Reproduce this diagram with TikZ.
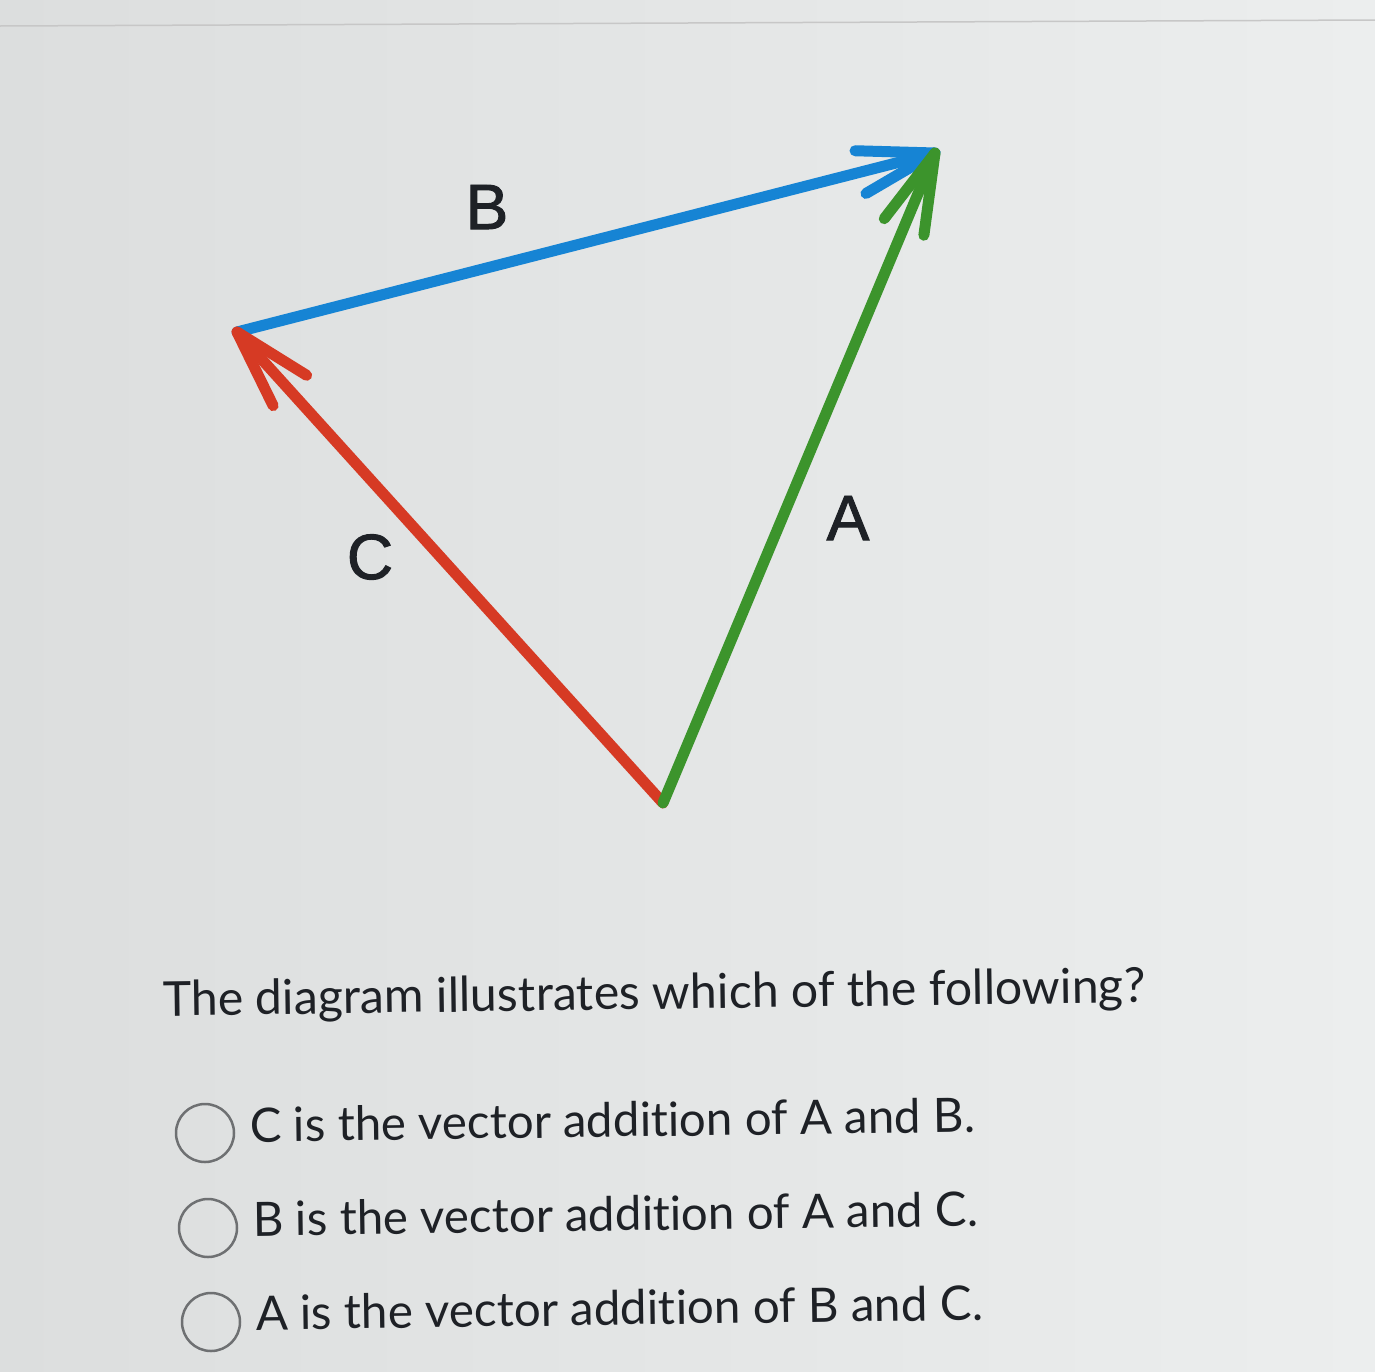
\documentclass[tikz,border=0pt]{standalone}
\usepackage{fontspec}
\setmainfont{Lato}[Ligatures=NoCommon]
\newfontfamily\labelfont{Liberation Sans}[FakeBold=1.5,UprightFeatures={FakeBold=1.5}]
\usetikzlibrary{calc}
\definecolor{bgL}{RGB}{220,222,222}
\definecolor{bgR}{RGB}{236,238,238}
\definecolor{vblue}{RGB}{22,132,212}
\definecolor{vred}{RGB}{214,58,36}
\definecolor{vgreen}{RGB}{60,148,44}
\definecolor{ink}{RGB}{30,33,38}
\definecolor{ring}{RGB}{110,112,114}
\begin{document}
\begin{tikzpicture}[x=1pt,y=-1pt,
  vec/.style={line width=11pt,line cap=round,line join=round},
  lab/.style={font=\labelfont\fontsize{64}{70}\selectfont,text=ink,inner sep=0pt},
  qline/.style={anchor=base west,inner sep=0pt,text=ink,rotate=0.8},
  radio/.style={circle,draw=ring,line width=2.5pt,minimum size=58pt,inner sep=0pt}]
\shade[left color=bgL,right color=bgR] (0,0) rectangle (1375,1371);
\useasboundingbox (0,0) rectangle (1375,1371);
\draw[black!22,line width=1.5pt] (0,26) -- (1375,20);
% vertices
\coordinate (P) at (663,803);
\coordinate (Q) at (237,332);
\coordinate (R) at (935,153);
% B
\draw[vec,vblue] (Q) -- (R);
\draw[vec,vblue] ($(R)!80pt!16:(Q)$) -- (R) -- ($(R)!80pt!-16:(Q)$);
% C
\draw[vec,vred] (P) -- (Q);
\draw[vec,vred] ($(Q)!82pt!16:(P)$) -- (Q) -- ($(Q)!82pt!-16:(P)$);
% A
\draw[vec,vgreen] (P) -- (R);
\draw[vec,vgreen] ($(R)!83pt!15:(P)$) -- (R) -- ($(R)!83pt!-15:(P)$);
% labels
\node[lab] (lB) at (487,207) {B};
\node[lab] (lC) at (370,557) {C};
\node[lab] (lA) at (848,518) {A};
% question
\node[qline] (q) at (163,1016) {\resizebox{982pt}{!}{The diagram illustrates which of the following?}};
\node[radio] (r1) at (205,1133) {};
\node[radio] (r2) at (208,1228) {};
\node[radio] (r3) at (211,1322) {};
\node[qline] (o1) at (250,1142) {\resizebox{725pt}{!}{C is the vector addition of A and B.}};
\node[qline] (o2) at (253,1236) {\resizebox{725pt}{!}{B is the vector addition of A and C.}};
\node[qline] (o3) at (256,1330) {\resizebox{727pt}{!}{A is the vector addition of B and C.}};
\end{tikzpicture}
\end{document}
